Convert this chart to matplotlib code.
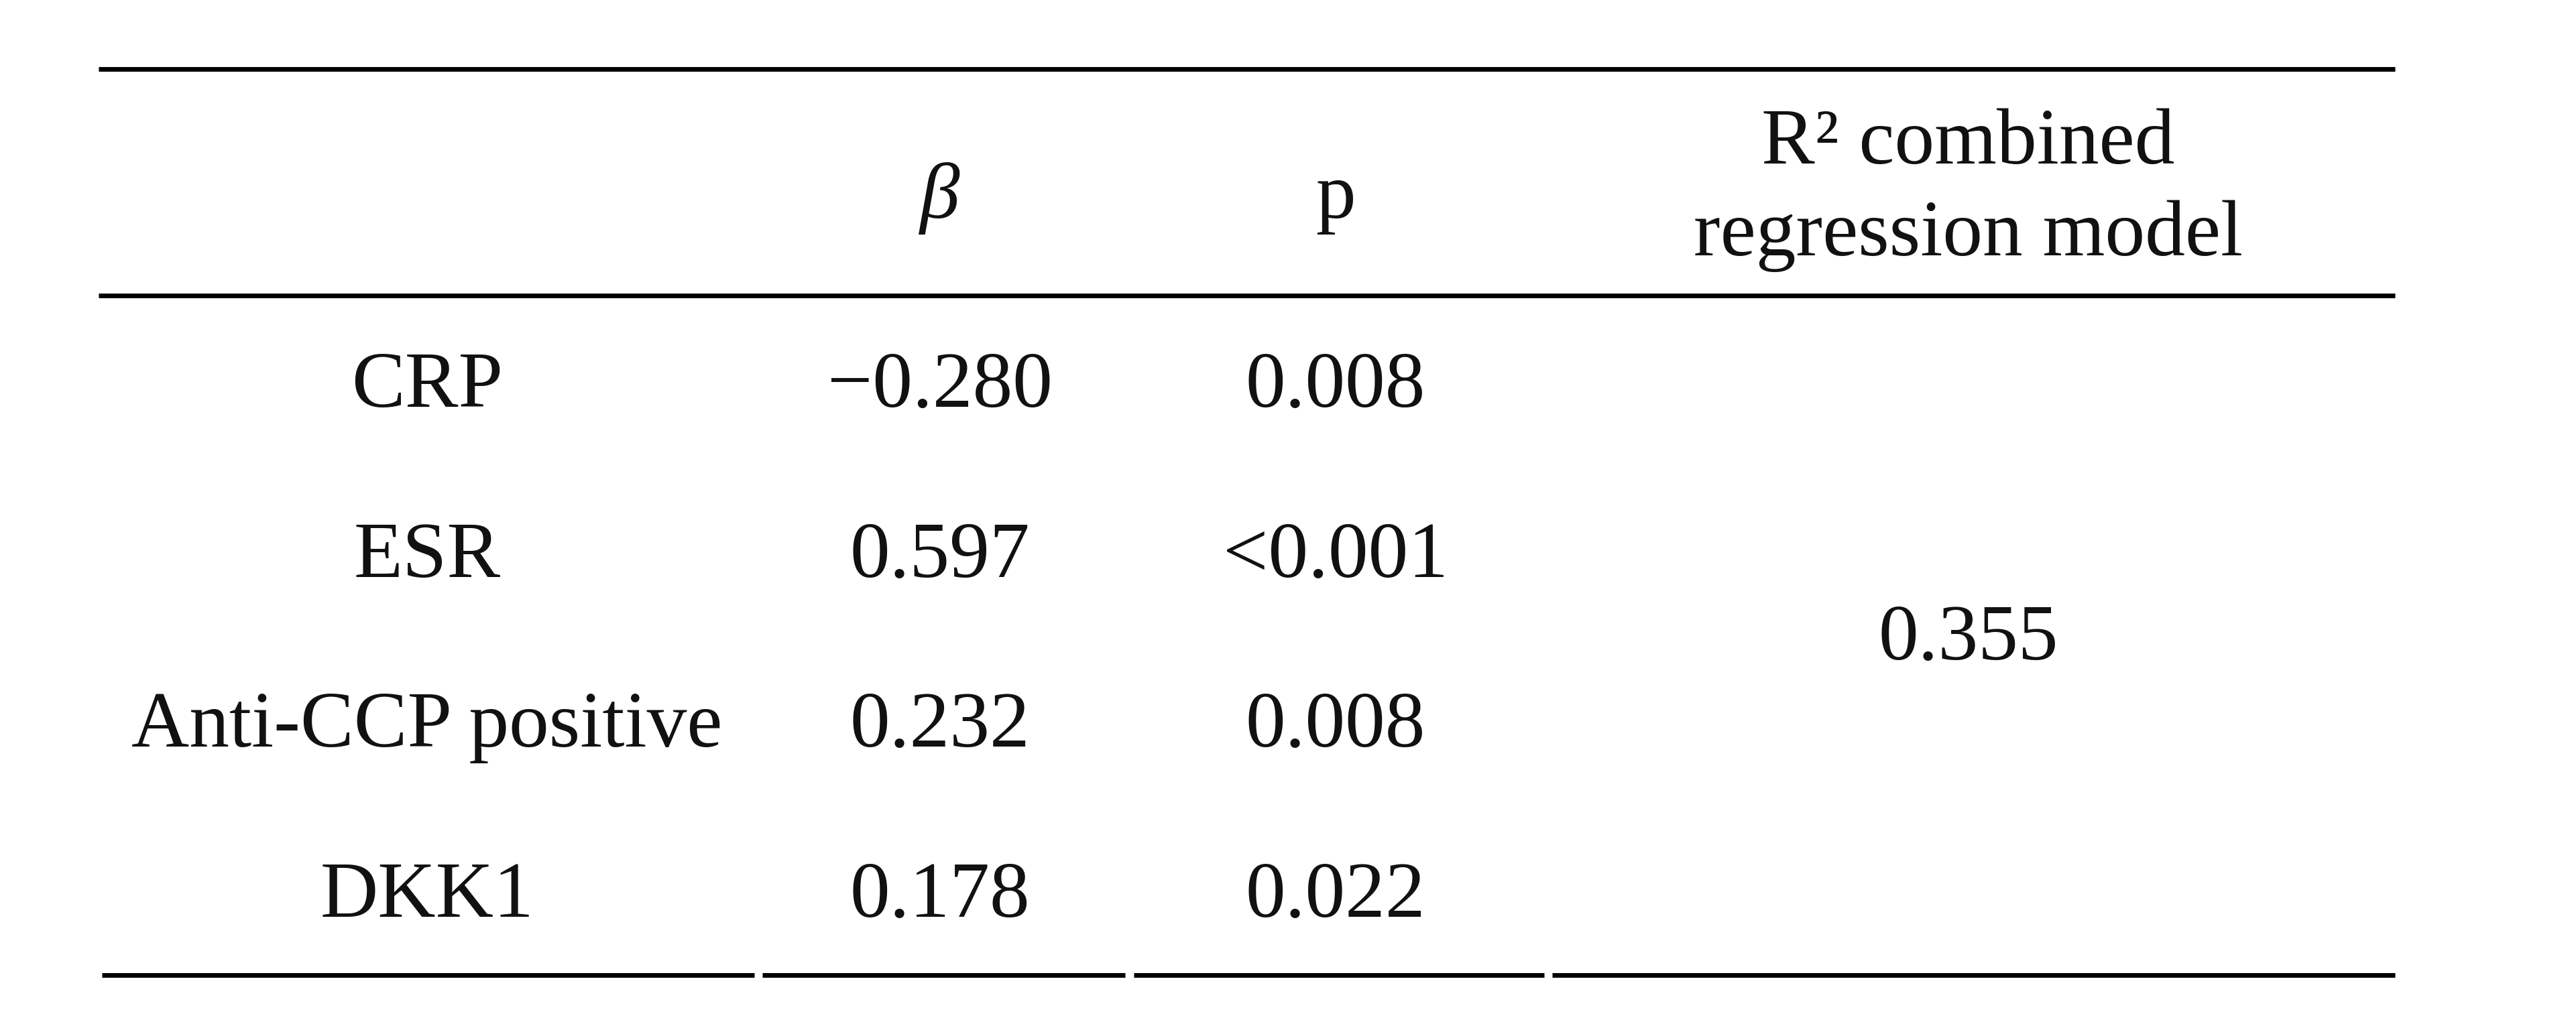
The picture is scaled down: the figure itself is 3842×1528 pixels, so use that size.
import matplotlib
matplotlib.use("Agg")
import matplotlib.pyplot as plt

variables = ["CRP", "ESR", "Anti-CCP positive", "DKK1"]
beta = ["\u22120.280", "0.597", "0.232", "0.178"]
pvals = ["0.008", "<0.001", "0.008", "0.022"]
r2_combined = "0.355"

W, H = 1568.0, 624.0
fig = plt.figure(figsize=(38.42, 15.28), dpi=100)
ax = fig.add_axes([0, 0, 1, 1])
ax.set_xlim(0, W)
ax.set_ylim(H, 0)
ax.axis("off")

font = dict(family="Liberation Serif", fontsize=86, ha="center", va="center", color="#111111")
lw = 5

ax.plot([60, 1458], [42, 42], color="black", lw=lw, solid_capstyle="butt")
ax.plot([60, 1458], [180, 180], color="black", lw=lw, solid_capstyle="butt")
for x0, x1 in [(62, 459), (464, 685), (690, 940), (945, 1458)]:
    ax.plot([x0, x1], [594, 594], color="black", lw=lw, solid_capstyle="butt")

cols = [260, 572, 813, 1198]
ax.text(cols[1], 121, "\u03b2", style="italic", **font)
ax.text(cols[2], 121, "p", **font)
ax.text(cols[3], 88, "R\u00b2 combined", **font)
ax.text(cols[3], 144, "regression model", **font)

rows = [236, 340, 443, 547]
for y, v, b, p in zip(rows, variables, beta, pvals):
    ax.text(cols[0], y, v, **font)
    ax.text(cols[1], y, b, **font)
    ax.text(cols[2], y, p, **font)
ax.text(cols[3], 390, r2_combined, **font)

fig.savefig("out.png", dpi=100, facecolor="white")
